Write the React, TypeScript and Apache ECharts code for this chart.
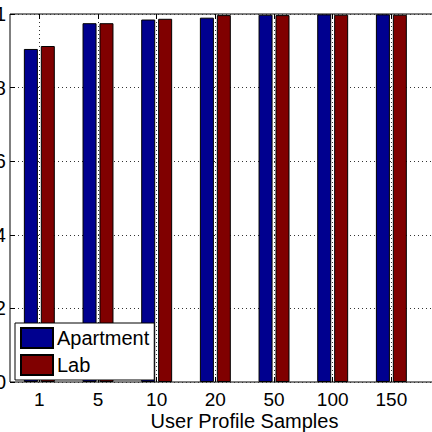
import React, { useEffect, useRef } from "react";
import * as echarts from "echarts";

const categories = ["1", "5", "10", "20", "50", "100", "150"];
const apartment = [0.905, 0.975, 0.985, 0.99, 0.998, 0.999, 0.999];
const lab = [0.913, 0.975, 0.987, 0.997, 0.997, 0.998, 0.998];
const yTicks = [0, 0.2, 0.4, 0.6, 0.8, 1];

const FONT = "Liberation Sans, Arial, Helvetica, sans-serif";

export default function App() {
  const ref = useRef<HTMLDivElement>(null);
  useEffect(() => {
    if (!ref.current) return;
    const chart = echarts.init(ref.current, null, { renderer: "svg" });
    const fmt = (v: number) => {
      if (v === 0) return "0";
      if (v === 1) return "1";
      return String(Math.round(v * 10) / 10).replace(/^0/, "");
    };
    chart.setOption({
      animation: false,
      backgroundColor: "#fff",
      textStyle: { fontFamily: FONT, color: "#000" },
      grid: [
        { left: 10, top: 14, width: 410.7, bottom: 50, show: false, outerBoundsMode: "none", containLabel: false },
        {
          left: 10,
          top: 14,
          right: -47,
          bottom: 50,
          show: true,
          borderColor: "#000",
          borderWidth: 1,
          backgroundColor: "transparent",
          outerBoundsMode: "none",
          containLabel: false,
        },
      ],
      legend: {
        data: ["Apartment", "Lab"],
        orient: "vertical",
        left: 15,
        top: 323,
        itemWidth: 32,
        itemHeight: 20,
        itemGap: 5,
        padding: [4, 5, 4, 5],
        backgroundColor: "#fff",
        borderColor: "#000",
        borderWidth: 1,
        borderRadius: 0,
        icon: "rect",
        textStyle: { fontSize: 20, fontFamily: FONT, color: "#000", padding: [0, 0, 0, -1] },
      },
      xAxis: [
        {
          type: "category",
          gridIndex: 0,
          data: categories,
          position: "bottom",
          axisLine: { show: false },
          axisTick: { show: true, inside: true, alignWithLabel: true, length: 5, lineStyle: { color: "#000" } },
          axisLabel: { fontSize: 19, lineHeight: 19, color: "#000", fontFamily: FONT, margin: 8 },
          splitLine: {
            show: true,
            alignWithLabel: true,
            lineStyle: { color: "#333", type: [1, 3], width: 1 },
          },
        },
        {
          type: "category",
          gridIndex: 0,
          data: categories,
          position: "top",
          axisLine: { show: false },
          axisTick: { show: true, inside: true, alignWithLabel: true, length: 5, lineStyle: { color: "#000" } },
          axisLabel: { show: false },
          splitLine: { show: false },
        },
        {
          type: "value",
          gridIndex: 1,
          min: 0,
          max: 1,
          position: "bottom",
          name: "User Profile Samples",
          nameLocation: "middle",
          nameGap: 29,
          nameTextStyle: { fontSize: 20, lineHeight: 20, color: "#000", fontFamily: FONT },
          axisLine: { show: false },
          axisTick: { show: false },
          axisLabel: { show: false },
          splitLine: { show: false },
        },
      ],
      yAxis: [
        {
          type: "value",
          gridIndex: 0,
          min: 0,
          max: 1,
          interval: 0.2,
          axisLine: { show: false },
          axisTick: { show: true, inside: true, length: 5, lineStyle: { color: "#000" } },
          axisLabel: {
            fontSize: 20,
            color: "#000",
            fontFamily: FONT,
            margin: 4,
            formatter: (v: number) => fmt(v),
            showMinLabel: true,
            showMaxLabel: true,
          },
          splitLine: { show: false },
        },
        {
          type: "value",
          gridIndex: 1,
          min: yTicks[0],
          max: yTicks[yTicks.length - 1],
          interval: 0.2,
          axisLine: { show: false },
          axisTick: { show: false },
          axisLabel: { show: false },
          splitLine: { show: true, lineStyle: { color: "#333", type: [1, 3], width: 1 } },
        },
      ],
      series: [
        {
          name: "Apartment",
          type: "bar",
          xAxisIndex: 0,
          yAxisIndex: 0,
          data: apartment,
          barWidth: 14,
          barGap: "21%",
          itemStyle: { color: "#00008F", borderColor: "#000", borderWidth: 1 },
        },
        {
          name: "Lab",
          type: "bar",
          xAxisIndex: 0,
          yAxisIndex: 0,
          data: lab,
          barWidth: 14,
          barGap: "21%",
          itemStyle: { color: "#800000", borderColor: "#000", borderWidth: 1 },
        },
      ],
    });
    return () => chart.dispose();
  }, []);
  return (
    <div
      ref={ref}
      style={{ position: "fixed", left: 0, top: 0, width: 432, height: 432 }}
    />
  );
}
